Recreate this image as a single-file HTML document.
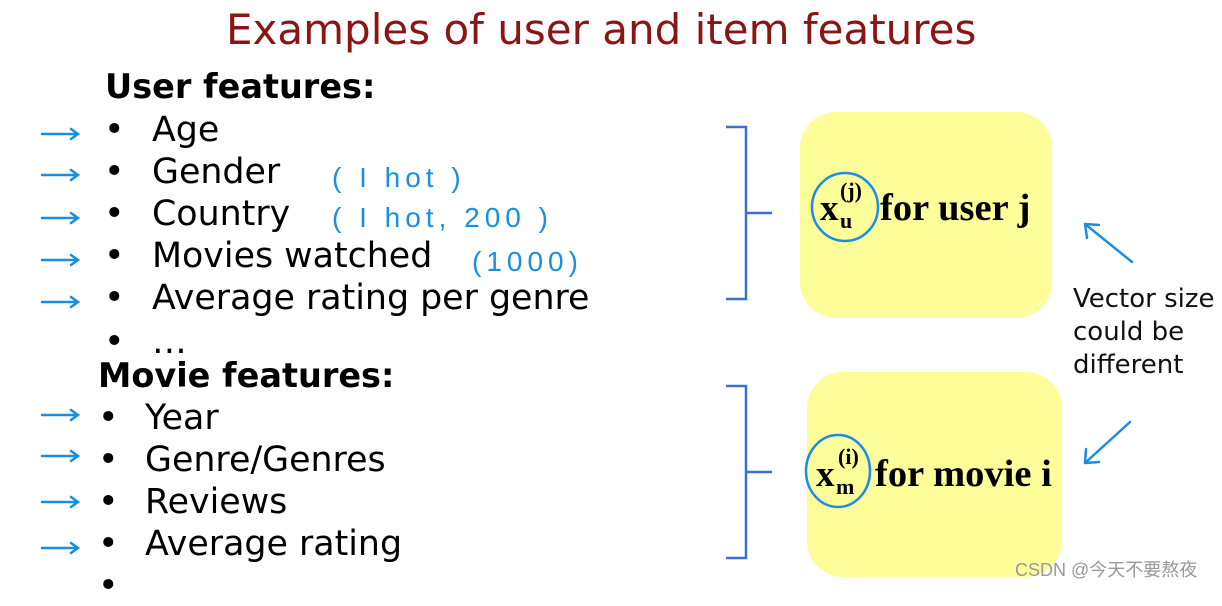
<!DOCTYPE html>
<html><head><meta charset="utf-8"><style>
body{margin:0;width:1222px;height:591px;background:#fff;position:relative;overflow:hidden;font-family:"DejaVu Sans","Liberation Sans",sans-serif;}
.t{position:absolute;white-space:nowrap;line-height:1;}
.h{font-weight:bold;font-size:33.5px;color:#000;}
.b{font-size:34.8px;color:#000;}
.hw{font-family:"Liberation Sans",sans-serif;color:#1a8ee0;font-size:28px;letter-spacing:5px;}
.box{position:absolute;background:#fdfd9a;border-radius:36px;}
.serif{font-family:"Liberation Serif","DejaVu Serif",serif;font-weight:bold;color:#000;}
</style></head><body>
<div class="t" style="left:226px;top:9px;font-size:42px;color:#8b1414;">Examples of user and item features</div>
<div class="t h" style="left:105px;top:70px;">User features:</div>
<div class="t b" style="left:104px;top:113px;">•</div><div class="t b" style="left:152px;top:113px;">Age</div>
<div class="t b" style="left:104px;top:155px;">•</div><div class="t b" style="left:152px;top:155px;">Gender</div>
<div class="t b" style="left:104px;top:197px;">•</div><div class="t b" style="left:152px;top:197px;">Country</div>
<div class="t b" style="left:104px;top:239px;">•</div><div class="t b" style="left:152px;top:239px;">Movies watched</div>
<div class="t b" style="left:104px;top:281px;">•</div><div class="t b" style="left:152px;top:281px;">Average rating per genre</div>
<div class="t b" style="left:104px;top:325px;">•</div><div class="t b" style="left:152px;top:325px;">…</div>
<div class="t h" style="left:98px;top:359px;">Movie features:</div>
<div class="t b" style="left:98px;top:401px;">•</div><div class="t b" style="left:145px;top:401px;">Year</div>
<div class="t b" style="left:98px;top:443px;">•</div><div class="t b" style="left:145px;top:443px;">Genre/Genres</div>
<div class="t b" style="left:98px;top:485px;">•</div><div class="t b" style="left:145px;top:485px;">Reviews</div>
<div class="t b" style="left:98px;top:527px;">•</div><div class="t b" style="left:145px;top:527px;">Average rating</div>
<div class="t b" style="left:98px;top:569px;">•</div>
<div class="t hw" style="left:332px;top:164px;">( I hot )</div>
<div class="t hw" style="left:332px;top:204px;">( I hot, 200 )</div>
<div class="t hw" style="left:472px;top:248px;">(1000)</div>
<svg style="position:absolute;left:0;top:0" width="1222" height="591">
<g stroke="#1a8ee0" stroke-width="2.5" fill="none" stroke-linecap="round">
<path d="M42 134h36m-7-5l7 5-7 5"/><path d="M42 175h36m-7-5l7 5-7 5"/><path d="M42 218h36m-7-5l7 5-7 5"/>
<path d="M42 260h36m-7-5l7 5-7 5"/><path d="M42 302h36m-7-5l7 5-7 5"/>
<path d="M42 415h36m-7-5l7 5-7 5"/><path d="M42 456h36m-7-5l7 5-7 5"/><path d="M42 502h36m-7-5l7 5-7 5"/><path d="M42 548h36m-7-5l7 5-7 5"/>
<path d="M1132 262L1085 224m0 0l2 14m-2-14l14 1"/><path d="M1130 422L1085 463m0 0l14-1m-14 1l1-14"/>
</g>
<g stroke="#3a70d0" stroke-width="2.5" fill="none">
<path d="M726 127h20v86h26m-26 0v86h-20"/><path d="M726 386h20v86h26m-26 0v86h-20"/>
</g>
</svg>
<div class="box" style="left:800px;top:112px;width:252px;height:206px;"></div>
<div class="box" style="left:807px;top:372px;width:255px;height:205px;"></div>
<div class="t serif" style="left:820px;top:190px;font-size:37px;">x</div>
<div class="t serif" style="left:840px;top:180px;font-size:22px;">(j)</div>
<div class="t serif" style="left:840px;top:210px;font-size:22px;">u</div>
<div class="t serif" style="left:880px;top:189px;font-size:38.5px;">for user j</div>
<div class="t serif" style="left:816px;top:456px;font-size:37px;">x</div>
<div class="t serif" style="left:838px;top:446px;font-size:22px;">(i)</div>
<div class="t serif" style="left:836px;top:476px;font-size:22px;">m</div>
<div class="t serif" style="left:875px;top:455px;font-size:38.5px;">for movie i</div>
<svg style="position:absolute;left:0;top:0" width="1222" height="591">
<g stroke="#1a8ee0" stroke-width="2.5" fill="none">
<ellipse cx="845" cy="207" rx="33" ry="34"/><ellipse cx="838" cy="471" rx="32" ry="36"/>
</g></svg>
<div class="t" style="left:1073px;top:283px;font-size:26px;line-height:33px;color:#111;white-space:normal;width:160px;">Vector size could be different</div>
<div class="t" style="left:1015px;top:561px;font-size:18px;color:#999;font-family:'Liberation Sans','Noto Sans CJK SC',sans-serif;">CSDN @今天不要熬夜</div>
</body></html>
